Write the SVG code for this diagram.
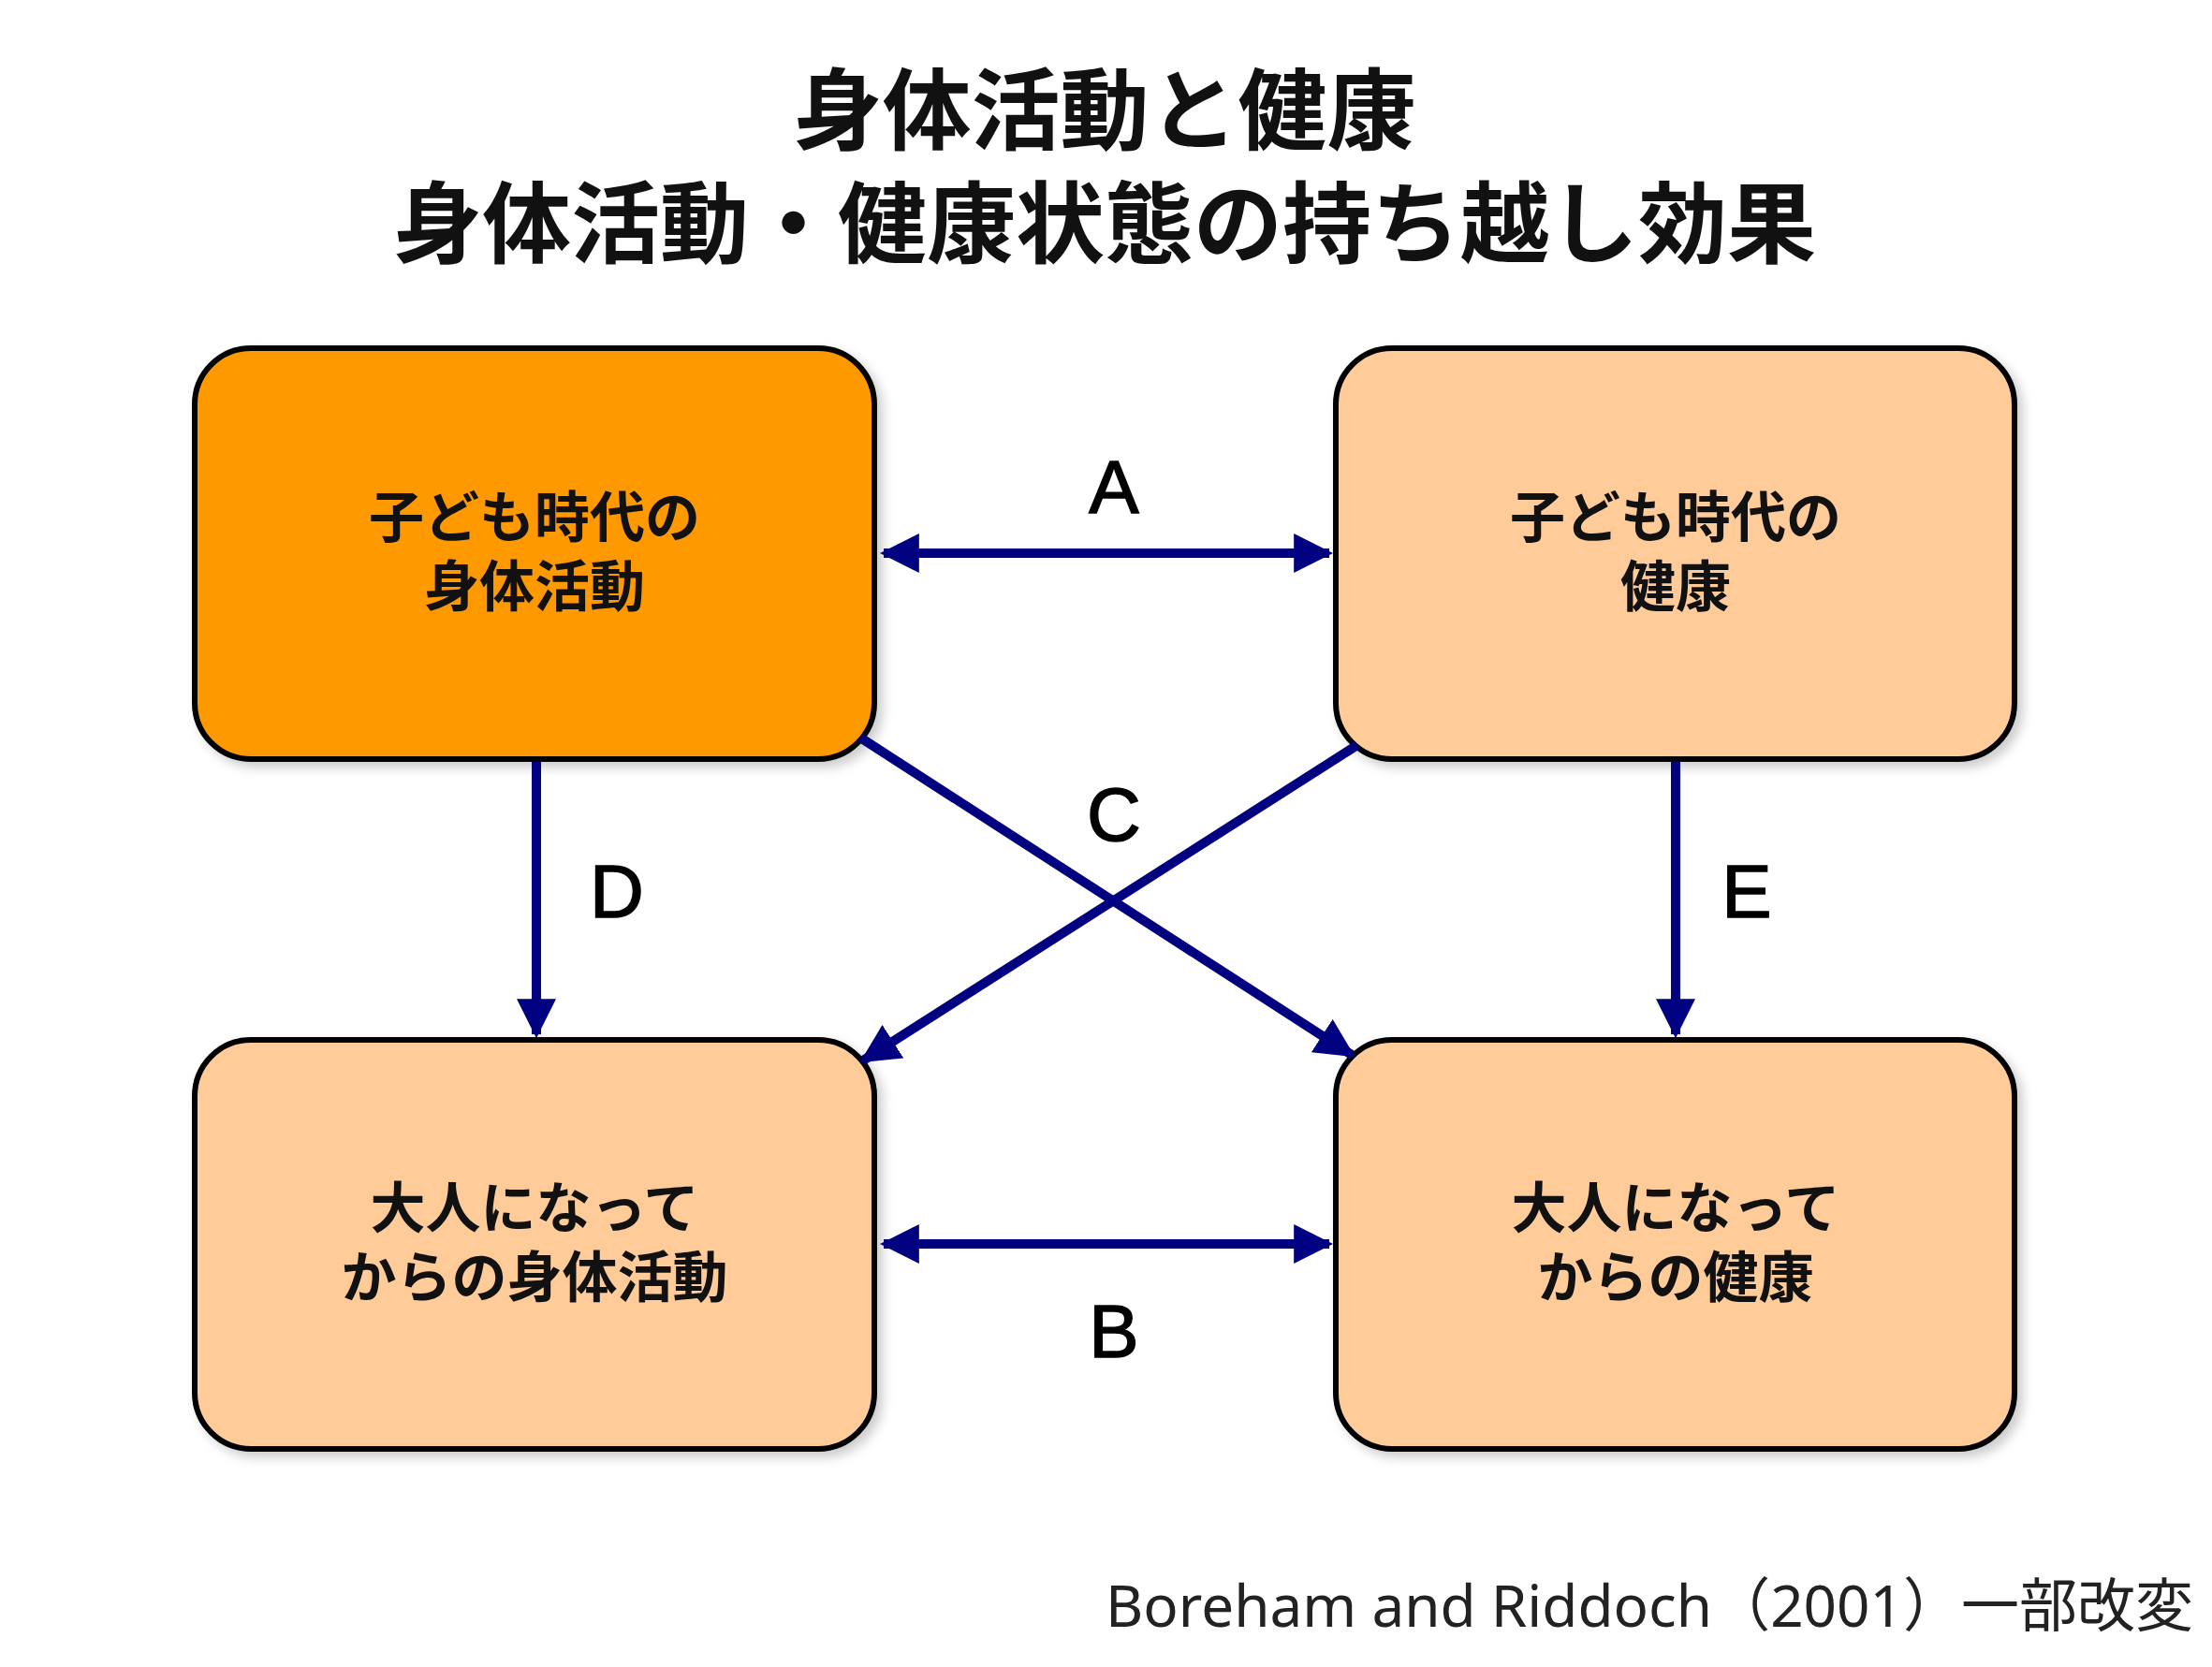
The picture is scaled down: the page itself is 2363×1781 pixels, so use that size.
<svg xmlns="http://www.w3.org/2000/svg" width="2363" height="1781" viewBox="0 0 2363 1781">
<style>
.box{stroke:#000;stroke-width:6}
.t{font-family:"Noto Sans CJK JP","Noto Sans",sans-serif;font-weight:bold;text-anchor:middle;fill:#111}
.bt{font-size:59px}
.lbl{font-family:"Liberation Sans",Arial,sans-serif;font-size:80px;text-anchor:middle;fill:#000;stroke:#000;stroke-width:1.5}
.c{stroke:#000080;stroke-width:10;fill:none}
</style>
<defs>
<marker id="ah" viewBox="0 0 10 10" refX="9" refY="5" markerWidth="4.2" markerHeight="4.2" orient="auto-start-reverse" markerUnits="strokeWidth"><path d="M0,0 L10,5 L0,10 z" fill="#000080"/></marker>
<filter id="sh" x="-10%" y="-10%" width="130%" height="130%"><feDropShadow dx="6" dy="6" stdDeviation="6" flood-opacity="0.2"/></filter>
</defs>
<rect width="2363" height="1781" fill="#fff"/>
<text class="t" x="1180" y="153" font-size="95">身体活動と健康</text>
<text class="t" x="1180" y="274" font-size="95">身体活動・健康状態の持ち越し効果</text>
<g id="n1"><rect class="box" x="208" y="372" width="726" height="439" rx="60" fill="#FF9900" filter="url(#sh)"/><text class="t bt" x="571" y="574">子ども時代の</text><text class="t bt" x="571" y="648">身体活動</text></g>
<g id="n2"><rect class="box" x="1427" y="372" width="725" height="439" rx="60" fill="#FFCC99" filter="url(#sh)"/><text class="t bt" x="1790" y="574">子ども時代の</text><text class="t bt" x="1790" y="648">健康</text></g>
<g id="n3"><rect class="box" x="208" y="1111" width="726" height="437" rx="60" fill="#FFCC99" filter="url(#sh)"/><text class="t bt" x="571" y="1312">大人になって</text><text class="t bt" x="571" y="1386">からの身体活動</text></g>
<g id="n4"><rect class="box" x="1427" y="1111" width="725" height="437" rx="60" fill="#FFCC99" filter="url(#sh)"/><text class="t bt" x="1790" y="1312">大人になって</text><text class="t bt" x="1790" y="1386">からの健康</text></g>
<g id="connectors">
<line class="c" x1="944" y1="591" x2="1420" y2="591" marker-start="url(#ah)" marker-end="url(#ah)"/>
<line class="c" x1="944" y1="1329" x2="1420" y2="1329" marker-start="url(#ah)" marker-end="url(#ah)"/>
<line class="c" x1="573" y1="814" x2="573" y2="1105" marker-end="url(#ah)"/>
<line class="c" x1="1790" y1="814" x2="1790" y2="1105" marker-end="url(#ah)"/>
<line class="c" x1="919" y1="788" x2="1444" y2="1127" marker-end="url(#ah)"/>
<line class="c" x1="1450" y1="796" x2="922" y2="1133" marker-end="url(#ah)"/>
</g>
<text class="lbl" x="1190" y="548">A</text>
<text class="lbl" x="1190" y="1450">B</text>
<text class="lbl" x="1190" y="898">C</text>
<text class="lbl" x="659" y="980">D</text>
<text class="lbl" x="1866" y="980">E</text>
<text x="2343" y="1738" text-anchor="end" font-family="'Noto Sans','Noto Sans CJK JP',sans-serif" font-size="62" fill="#222">Boreham and Riddoch（2001）一部改変</text>
</svg>
